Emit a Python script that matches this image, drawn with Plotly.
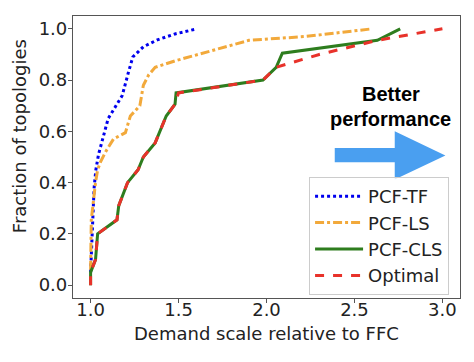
import plotly.graph_objects as go

# Data
tf_x = [1.0, 1.01, 1.02, 1.03, 1.045, 1.10, 1.18, 1.215, 1.24, 1.30, 1.38, 1.48, 1.605]
tf_y = [0.05, 0.25, 0.38, 0.45, 0.51, 0.65, 0.74, 0.83, 0.89, 0.93, 0.957, 0.98, 1.0]

ls_x = [1.0, 1.004, 1.028, 1.04, 1.056, 1.085, 1.13, 1.198, 1.226, 1.28, 1.30, 1.33, 1.367, 1.48, 1.90, 2.0, 2.22, 2.60]
ls_y = [0.06, 0.255, 0.40, 0.45, 0.48, 0.52, 0.57, 0.595, 0.66, 0.70, 0.78, 0.82, 0.85, 0.875, 0.955, 0.96, 0.97, 1.0]

cls_x = [1.0, 1.0, 1.028, 1.04, 1.15, 1.16, 1.21, 1.27, 1.30, 1.367, 1.43, 1.48, 1.486, 1.98, 2.055, 2.08, 2.09, 2.63, 2.76]
cls_y = [0.0, 0.05, 0.10, 0.20, 0.255, 0.31, 0.40, 0.45, 0.50, 0.555, 0.66, 0.706, 0.75, 0.80, 0.85, 0.89, 0.905, 0.955, 1.0]

opt_x = [1.0, 1.0, 1.028, 1.04, 1.15, 1.16, 1.21, 1.27, 1.30, 1.367, 1.43, 1.48, 1.50, 1.98, 2.055, 2.3, 2.63, 3.0]
opt_y = [0.0, 0.05, 0.10, 0.20, 0.255, 0.31, 0.40, 0.45, 0.50, 0.555, 0.66, 0.706, 0.75, 0.80, 0.85, 0.90, 0.955, 1.0]

x_ticks = [1.0, 1.5, 2.0, 2.5, 3.0]
x_tick_labels = ["1.0", "1.5", "2.0", "2.5", "3.0"]
y_ticks = [0.0, 0.2, 0.4, 0.6, 0.8, 1.0]
y_tick_labels = ["0.0", "0.2", "0.4", "0.6", "0.8", "1.0"]

fig = go.Figure()
fig.add_trace(go.Scatter(x=tf_x, y=tf_y, mode="lines", name="PCF-TF",
                         line=dict(color="#0000ee", width=3, dash="dot")))
fig.add_trace(go.Scatter(x=ls_x, y=ls_y, mode="lines", name="PCF-LS",
                         line=dict(color="#f2a93b", width=3, dash="dashdot")))
fig.add_trace(go.Scatter(x=cls_x, y=cls_y, mode="lines", name="PCF-CLS",
                         line=dict(color="#2e7d1e", width=3)))
fig.add_trace(go.Scatter(x=opt_x, y=opt_y, mode="lines", name="Optimal",
                         line=dict(color="#e8322a", width=3, dash="dash")))

# Arrow shape
fig.add_shape(type="path", xref="x", yref="y",
              path="M 2.388,0.535 L 2.729,0.535 L 2.729,0.600 L 3.017,0.506 L 2.729,0.412 L 2.729,0.480 L 2.388,0.480 Z",
              fillcolor="#4a9ff0", line=dict(width=0))

fig.add_annotation(x=2.706, y=0.745, xref="x", yref="y", text="<b>Better</b>",
                   showarrow=False, font=dict(family="Liberation Sans", size=20, color="black"))
fig.add_annotation(x=2.706, y=0.647, xref="x", yref="y", text="<b>performance</b>",
                   showarrow=False, font=dict(family="Liberation Sans", size=20, color="black"))

# Axis titles
fig.add_annotation(x=0.5, y=0, xref="paper", yref="paper", yshift=-35,
                   text="Demand scale relative to FFC", showarrow=False,
                   xanchor="center", yanchor="middle",
                   font=dict(family="DejaVu Sans", size=18, color="#222222"))
fig.add_annotation(x=0, y=0.574, xref="paper", yref="paper", xshift=-54,
                   text="Fraction of topologies", showarrow=False, textangle=-90,
                   xanchor="center", yanchor="middle",
                   font=dict(family="DejaVu Sans", size=18, color="#222222"))

axis_common = dict(showgrid=False, zeroline=False, showline=True, linecolor="#555555",
                   linewidth=1.2, mirror=True, ticks="outside", ticklen=4, automargin=False,
                   tickcolor="#555555", tickfont=dict(size=18, color="#222222"))

fig.update_layout(
    width=474, height=362,
    margin=dict(l=65, r=22, t=8, b=72),
    plot_bgcolor="white", paper_bgcolor="white",
    font=dict(family="DejaVu Sans", color="#222222"),
    xaxis=dict(range=[0.9, 3.1], tickvals=x_ticks, ticktext=x_tick_labels,
               ticklabelstandoff=-9, **axis_common),
    yaxis=dict(range=[-0.05, 1.05], tickvals=y_ticks, ticktext=y_tick_labels,
               ticklabelstandoff=-3, **axis_common),
    legend=dict(x=0.61, y=0.429, xanchor="left", yanchor="top",
                bordercolor="#cccccc", borderwidth=1, bgcolor="rgba(255,255,255,0.8)",
                font=dict(size=18, color="#222222"), itemwidth=48),
    showlegend=True,
)

fig.write_html("out.html")
